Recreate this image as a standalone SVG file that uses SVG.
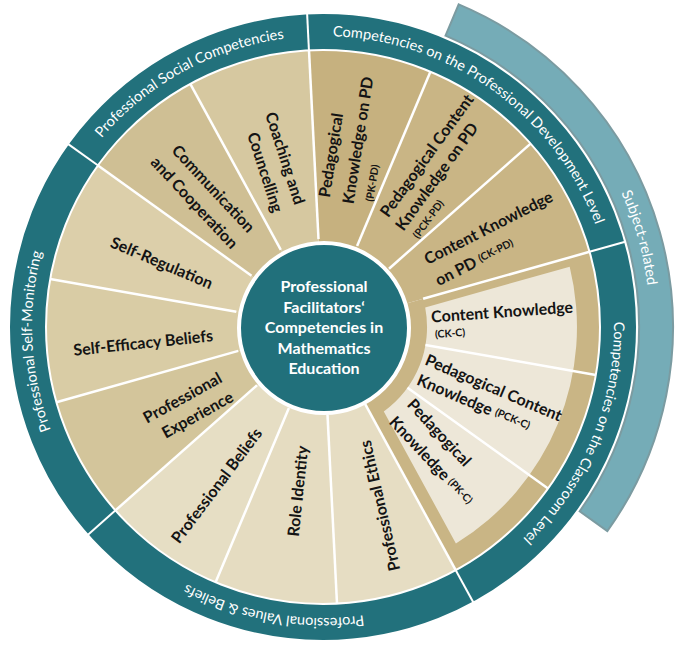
<svg xmlns="http://www.w3.org/2000/svg" width="685" height="645" viewBox="0 0 685 645">
<style>
.lbl{font-family:Lato,"Open Sans","Liberation Sans",sans-serif;font-weight:bold;font-size:16px;fill:#141414;text-anchor:middle;dominant-baseline:central}
.tag{font-size:10.5px}
.ctr{font-family:Lato,"Open Sans","Liberation Sans",sans-serif;font-weight:bold;font-size:16px;fill:#fff;text-anchor:middle}
.ring{font-family:Lato,"Open Sans","Liberation Sans",sans-serif;font-size:14.5px;fill:#fff}
.sep{stroke:#fff;stroke-width:2.5;fill:none}
.rsep{stroke:#fff;stroke-width:2;fill:none}
</style>
<defs>
<path id="arcA" d="M308.3 36.4 A291 291 0 0 1 603.1 248.0"/>
<path id="arcB" d="M603.1 248.0 A291 291 0 0 1 462.4 582.4"/>
<path id="arcC" d="M462.4 582.4 A291 291 0 0 1 104.9 519.6"/>
<path id="arcD" d="M104.9 519.6 A291 291 0 0 1 86.6 157.3"/>
<path id="arcE" d="M86.6 157.3 A291 291 0 0 1 308.3 36.4"/>
<path id="arcS" d="M449.8 25.6 A327 327 0 0 1 588.7 517.7"/>
</defs>

<g id="subject-related">
<path d="M458.7 4.4 A350 350 0 0 1 607.3 531.1 L579.7 511.3 A316 316 0 0 0 445.5 35.7 Z" fill="#75acb7" stroke="#7b9ba1" stroke-width="2"/>
<text class="ring"><textPath href="#arcS" startOffset="50%" text-anchor="middle">Subject-related</textPath></text>
</g>

<g id="seg-pk-pd">
<path d="M323 327 L308.7 45.4 A282 282 0 0 1 432.4 67.1 Z" fill="#c6b17f"/>
<text class="lbl" transform="translate(330,155) rotate(-81)">Pedagogical</text>
<text class="lbl" transform="translate(357,140) rotate(-81)">Knowledge on PD</text>
<text class="lbl tag" transform="translate(372,183) rotate(-81)">(PK-PD)</text>
</g>
<g id="seg-pck-pd">
<path d="M323 327 L432.4 67.1 A282 282 0 0 1 534.4 140.3 Z" fill="#c9b585"/>
<text class="lbl" transform="translate(426,155) rotate(-54)">Pedagogical Content</text>
<text class="lbl" transform="translate(436,176) rotate(-54)">Knowledge on PD</text>
<text class="lbl tag" transform="translate(428,219) rotate(-54)">(PCK-PD)</text>
</g>
<g id="seg-ck-pd">
<path d="M323 327 L534.4 140.3 A282 282 0 0 1 594.4 250.4 Z" fill="#c9b585"/>
<text class="lbl" transform="translate(488,227) rotate(-27)">Content Knowledge</text>
<text class="lbl" transform="translate(474,261) rotate(-27)">on PD <tspan class="tag">(CK-PD)</tspan></text>
</g>
<g id="classroom-frame">
<path d="M323 327 L594.4 250.4 A282 282 0 0 1 458.1 574.5 Z" fill="#c9b585"/>
<path d="M425.2 307.5 L569.7 266.7 A254 254 0 0 1 455.9 543.5 L383.8 411.4 A104 104 0 0 0 425.2 307.5 Z" fill="#ede7d8"/>
</g>
<g id="seg-ck-c">
<text class="lbl" transform="translate(502,311) rotate(-4)">Content Knowledge</text>
<text class="lbl tag" transform="translate(450,333) rotate(-4)">(CK-C)</text>
</g>
<g id="seg-pck-c">
<text class="lbl" transform="translate(494,387) rotate(23)">Pedagogical Content</text>
<text class="lbl" transform="translate(474,402) rotate(23)">Knowledge <tspan class="tag">(PCK-C)</tspan></text>
</g>
<g id="seg-pk-c">
<text class="lbl" transform="translate(440,432) rotate(47)">Pedagogical</text>
<text class="lbl" transform="translate(432,460) rotate(47)">Knowledge <tspan class="tag">(PK-C)</tspan></text>
</g>
<g id="seg-ethics">
<path d="M323 327 L458.1 574.5 A282 282 0 0 1 337.3 608.6 Z" fill="#e6ddc3"/>
<text class="lbl" transform="translate(379,506) rotate(-103)">Professional Ethics</text>
</g>
<g id="seg-role">
<path d="M323 327 L337.3 608.6 A282 282 0 0 1 213.7 586.9 Z" fill="#e5dcc1"/>
<text class="lbl" transform="translate(297,491) rotate(-84)">Role Identity</text>
</g>
<g id="seg-beliefs">
<path d="M323 327 L213.7 586.9 A282 282 0 0 1 111.6 513.7 Z" fill="#e6dec4"/>
<text class="lbl" transform="translate(216,485) rotate(-53)">Professional Beliefs</text>
</g>
<g id="seg-experience">
<path d="M323 327 L111.6 513.7 A282 282 0 0 1 51.6 403.6 Z" fill="#d3c59b"/>
<text class="lbl" transform="translate(182,397) rotate(-29)">Professional</text>
<text class="lbl" transform="translate(197,414) rotate(-29)">Experience</text>
</g>
<g id="seg-self-efficacy">
<path d="M323 327 L51.6 403.6 A282 282 0 0 1 45.3 278.2 Z" fill="#d9cca5"/>
<text class="lbl" transform="translate(143,342) rotate(-6)">Self-Efficacy Beliefs</text>
</g>
<g id="seg-self-regulation">
<path d="M323 327 L45.3 278.2 A282 282 0 0 1 93.9 162.5 Z" fill="#dccfaa"/>
<text class="lbl" transform="translate(162,262) rotate(23)">Self-Regulation</text>
</g>
<g id="seg-communication">
<path d="M323 327 L93.9 162.5 A282 282 0 0 1 187.9 79.5 Z" fill="#cfbf94"/>
<text class="lbl" transform="translate(214,188) rotate(47)">Communication</text>
<text class="lbl" transform="translate(195,202) rotate(47)">and Cooperation</text>
</g>
<g id="seg-coaching">
<path d="M323 327 L187.9 79.5 A282 282 0 0 1 308.7 45.4 Z" fill="#d6c8a0"/>
<text class="lbl" transform="translate(286,158) rotate(72)">Coaching and</text>
<text class="lbl" transform="translate(266,172) rotate(72)">Councelling</text>
</g>

<g id="connectors">
<line class="sep" x1="318.5" y1="239.1" x2="309.0" y2="50.4"/>
<line class="sep" x1="357.1" y1="245.9" x2="430.4" y2="71.7"/>
<line class="sep" x1="389.0" y1="268.7" x2="530.6" y2="143.6"/>
<line class="sep" x1="423.1" y1="298.8" x2="589.6" y2="251.8"/>
<line class="sep" x1="425.4" y1="345.0" x2="595.8" y2="374.9"/>
<line class="sep" x1="407.5" y1="387.7" x2="548.0" y2="488.5"/>
<line class="sep" x1="365.2" y1="404.2" x2="455.7" y2="570.2"/>
<line class="sep" x1="327.5" y1="414.9" x2="337.0" y2="603.6"/>
<line class="sep" x1="288.9" y1="408.1" x2="215.6" y2="582.3"/>
<line class="sep" x1="257.0" y1="385.3" x2="115.4" y2="510.4"/>
<line class="sep" x1="238.3" y1="350.9" x2="56.4" y2="402.2"/>
<line class="sep" x1="236.3" y1="311.8" x2="50.2" y2="279.1"/>
<line class="sep" x1="251.5" y1="275.7" x2="98.0" y2="165.5"/>
<line class="sep" x1="280.8" y1="249.8" x2="190.3" y2="83.8"/>
</g>

<g id="outer-ring">
<circle cx="323" cy="327" r="295" fill="none" stroke="#22717c" stroke-width="36"/>
<circle cx="323" cy="327" r="277" fill="none" stroke="#fff" stroke-width="2"/>
<line class="rsep" x1="309.0" y1="51.4" x2="307.1" y2="13.4"/>
<line class="rsep" x1="588.6" y1="252.0" x2="625.2" y2="241.7"/>
<line class="rsep" x1="455.2" y1="569.3" x2="473.4" y2="602.6"/>
<line class="rsep" x1="116.1" y1="509.7" x2="87.7" y2="534.9"/>
<line class="rsep" x1="98.8" y1="166.0" x2="67.9" y2="143.9"/>
<text class="ring"><textPath href="#arcA" startOffset="50%" text-anchor="middle">Competencies on the Professional Development Level</textPath></text>
<text class="ring"><textPath href="#arcB" startOffset="50%" text-anchor="middle">Competencies on the Classroom Level</textPath></text>
<text class="ring"><textPath href="#arcC" startOffset="50%" text-anchor="middle">Professional Values &amp; Beliefs</textPath></text>
<text class="ring"><textPath href="#arcD" startOffset="50%" text-anchor="middle">Professional Self-Monitoring</textPath></text>
<text class="ring"><textPath href="#arcE" startOffset="50%" text-anchor="middle">Professional Social Competencies</textPath></text>
</g>

<g id="center">
<circle cx="324" cy="328" r="85" fill="#21707b" stroke="#fff" stroke-width="4"/>
<text class="ctr" x="324" y="292">Professional</text>
<text class="ctr" x="324" y="312.5">Facilitators‘</text>
<text class="ctr" x="324" y="333">Competencies in</text>
<text class="ctr" x="324" y="353.5">Mathematics</text>
<text class="ctr" x="324" y="374">Education</text>
</g>
</svg>
